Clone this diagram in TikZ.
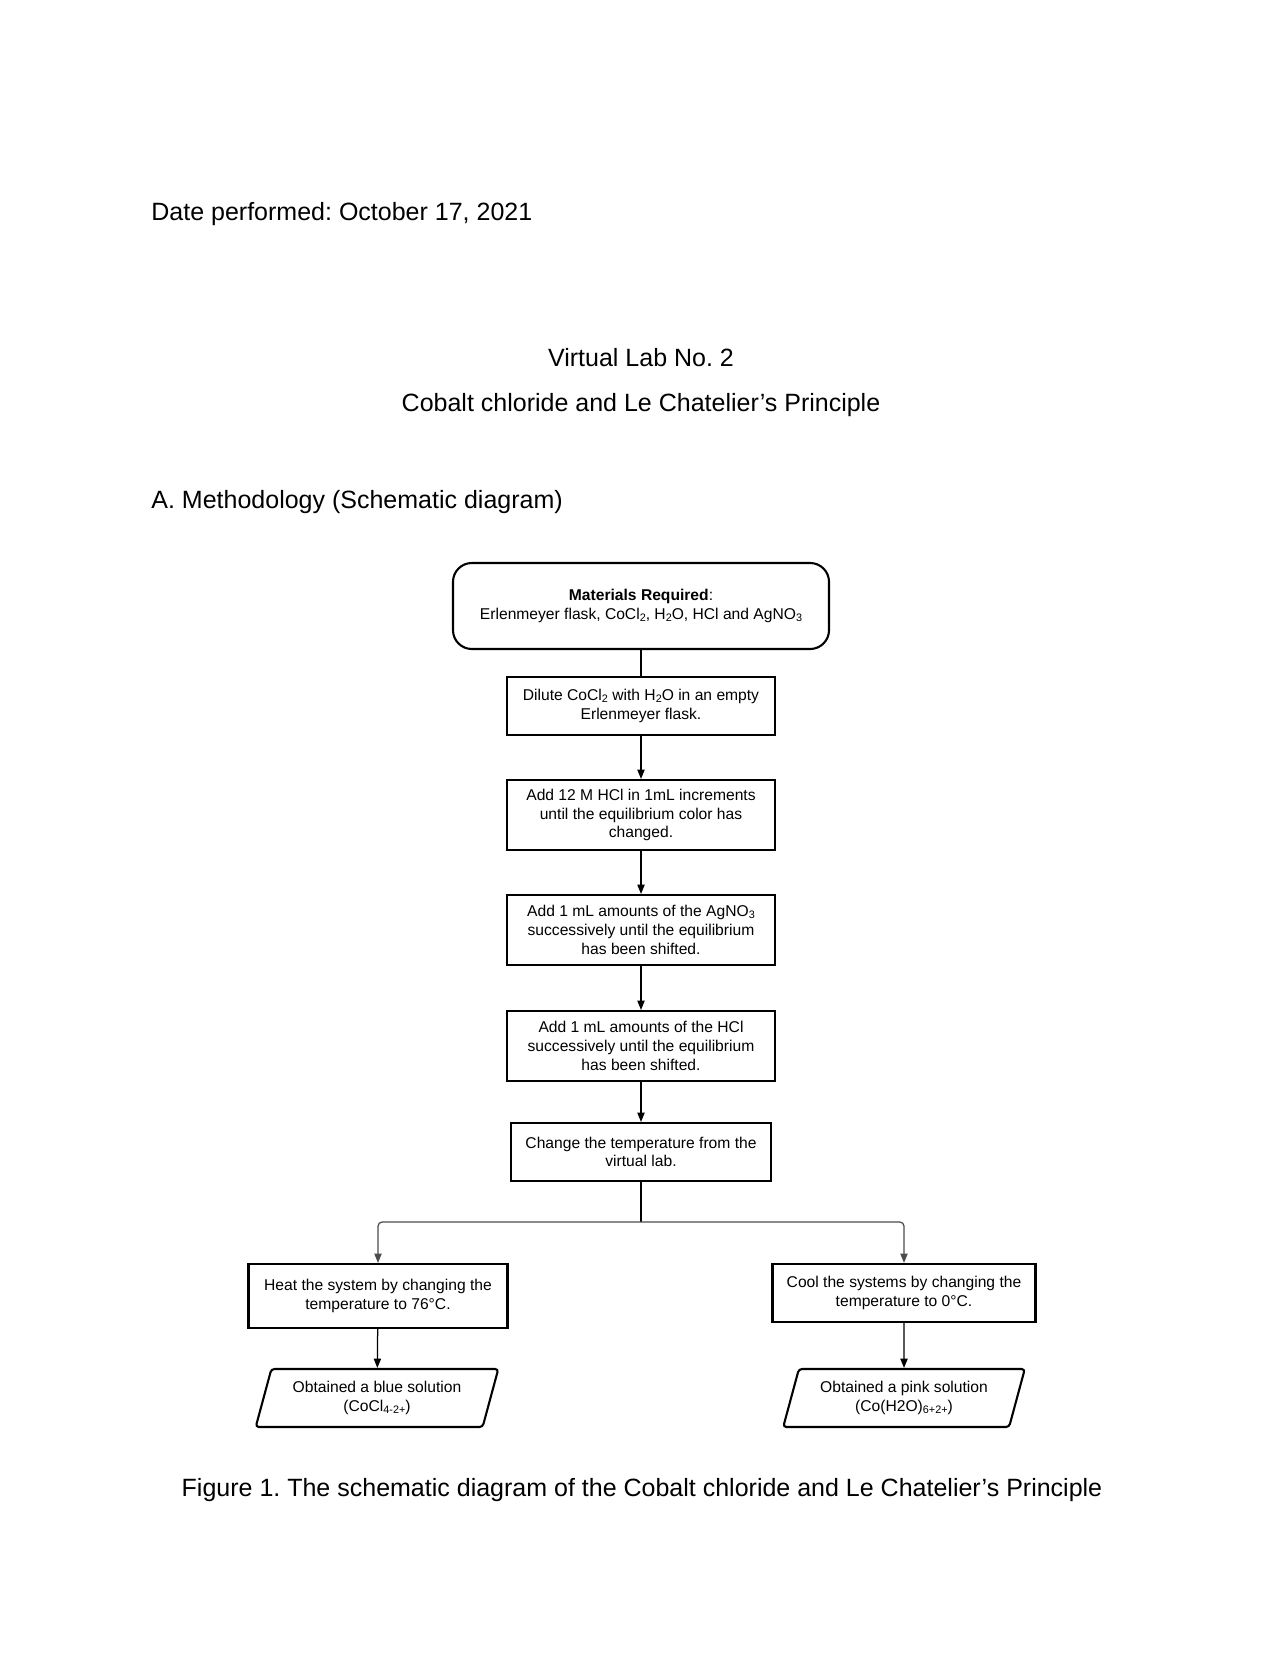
\documentclass[tikz,border=0pt]{standalone}
\usepackage{fontspec}
\setmainfont{Liberation Sans}
\usetikzlibrary{shapes.geometric,arrows.meta}
\frenchspacing
\newcommand\pxu{0.478125bp}
\newcommand\lo[1]{\raisebox{-.2ex}{\fontsize{5.2}{5}\selectfont #1}}

\begin{document}
\begin{tikzpicture}[x=0.478125bp, y=-0.478125bp,
    heading/.style ={font=\fontsize{12}{14}\selectfont, inner sep=0pt},
    stepbox/.style ={rectangle, draw, line width=1bp, align=center,
      font=\fontsize{7.5}{9}\selectfont, minimum width=268*\pxu, minimum height=70*\pxu},
    materials/.style ={stepbox, rounded corners=9bp, minimum width=376*\pxu, minimum height=86*\pxu},
    result/.style ={trapezium, trapezium left angle=74, trapezium right angle=106,
      trapezium stretches=true, draw, line width=1bp, rounded corners=1.5bp, align=center,
      font=\fontsize{7.5}{9}\selectfont, minimum width=244*\pxu, minimum height=58*\pxu},
    link/.style ={line width=0.6bp, -{Triangle[length=4.5bp, width=3.5bp]}}]
   \useasboundingbox (0,0) rectangle (1280,1656);

   % page text
   \node[heading, anchor=west] (date) at (151,214) {Date performed: October 17, 2021};
   \node[heading] (lab) at (641,358) {Virtual Lab No. 2};
   \node[heading] (title) at (641,405) {Cobalt chloride and Le Chatelier’s Principle};
   \node[heading, anchor=west] (method) at (151,502) {A. Methodology (Schematic diagram)};

   % flow chart
   \node[materials] (mat) at (641,606) {\textbf{Materials Required}:\\Erlenmeyer flask, CoCl\lo{2}, H\lo{2}O, HCl and AgNO\lo{3}};
   \node[stepbox, minimum height=58*\pxu] (dil) at (641,706) {Dilute CoCl\lo{2} with H\lo{2}O in an empty\\Erlenmeyer flask.};
   \node[stepbox] (hcl) at (641,815) {Add 12 M HCl in 1mL increments\\until the equilibrium color has\\changed.};
   \node[stepbox] (agno) at (641,930) {Add 1 mL amounts of the AgNO\lo{3}\\successively until the equilibrium\\has been shifted.};
   \node[stepbox] (hclmore) at (641,1046) {Add 1 mL amounts of the HCl\\successively until the equilibrium\\has been shifted.};
   \node[stepbox, minimum width=260*\pxu, minimum height=58*\pxu] (temp) at (641,1152) {Change the temperature from the\\virtual lab.};
   \node[stepbox, minimum width=259*\pxu, minimum height=64*\pxu] (heat) at (378,1296) {Heat the system by changing the\\temperature to 76°C.};
   \node[stepbox, minimum width=263*\pxu, minimum height=58*\pxu] (cool) at (904,1293) {Cool the systems by changing the\\temperature to 0°C.};
   \node[result] (blue) at (377,1398) {Obtained a blue solution\\(CoCl\lo{4-2+})};
   \node[result] (pink) at (904,1398) {Obtained a pink solution\\(Co(H2O)\lo{6+2+})};
   \coordinate (split) at (641,1222);

   \draw[line width=0.6bp] (mat) to (dil);
   \draw[link] (dil) to (hcl);
   \draw[link] (hcl) to (agno);
   \draw[link] (agno) to (hclmore);
   \draw[link] (hclmore) to (temp);
   \draw[line width=0.6bp] (temp) to (split);
   \draw[link, draw=black!70, rounded corners=2bp] (split) -| (heat);
   \draw[link, draw=black!70, rounded corners=2bp] (split) -| (cool);
   \draw[link] (heat) to (blue);
   \draw[link] (cool) to (pink);

   \node[heading] (caption) at (642,1490) {Figure 1. The schematic diagram of the Cobalt chloride and Le Chatelier’s Principle};
\end{tikzpicture}
\end{document}
